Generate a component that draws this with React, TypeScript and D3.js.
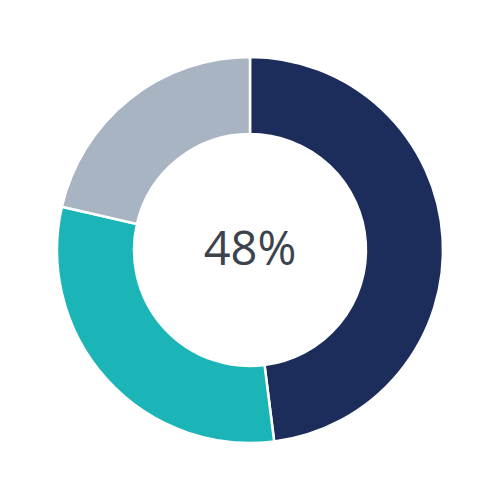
import { useEffect, useRef } from "react";
import * as d3 from "d3";

const labels = ["Navy", "Teal", "Gray"];
const values = [48, 30.6, 21.4];
const colors = ["#1c2c5b", "#1bb5b7", "#a9b4c3"];
const centerLabel = "48%";

const App = () => {
  const svgRef = useRef<SVGSVGElement | null>(null);

  useEffect(() => {
    const svg = d3.select(svgRef.current);
    svg.selectAll("*").remove();

    const width = 500;
    const height = 500;
    const outerRadius = 193;
    const innerRadius = 116;

    const g = svg
      .append("g")
      .attr("transform", `translate(${width / 2},${height / 2})`);

    const pie = d3
      .pie<number>()
      .sort(null)
      .value((d) => d);

    const arc = d3
      .arc<d3.PieArcDatum<number>>()
      .innerRadius(innerRadius)
      .outerRadius(outerRadius);

    g.selectAll("path")
      .data(pie(values))
      .enter()
      .append("path")
      .attr("d", arc)
      .attr("fill", (_d, i) => colors[i])
      .attr("stroke", "#fff")
      .attr("stroke-width", 2.5)
      .append("title")
      .text((_d, i) => labels[i]);

    g.append("text")
      .attr("text-anchor", "middle")
      .attr("y", 15)
      .attr("font-family", "Open Sans, sans-serif")
      .attr("font-size", 47)
      .attr("fill", "#3d434d")
      .text(centerLabel);
  }, []);

  return (
    <svg
      ref={svgRef}
      width="500"
      height="500"
      style={{ position: "absolute", top: 0, left: 0, background: "#fff" }}
    ></svg>
  );
};

export default App;
